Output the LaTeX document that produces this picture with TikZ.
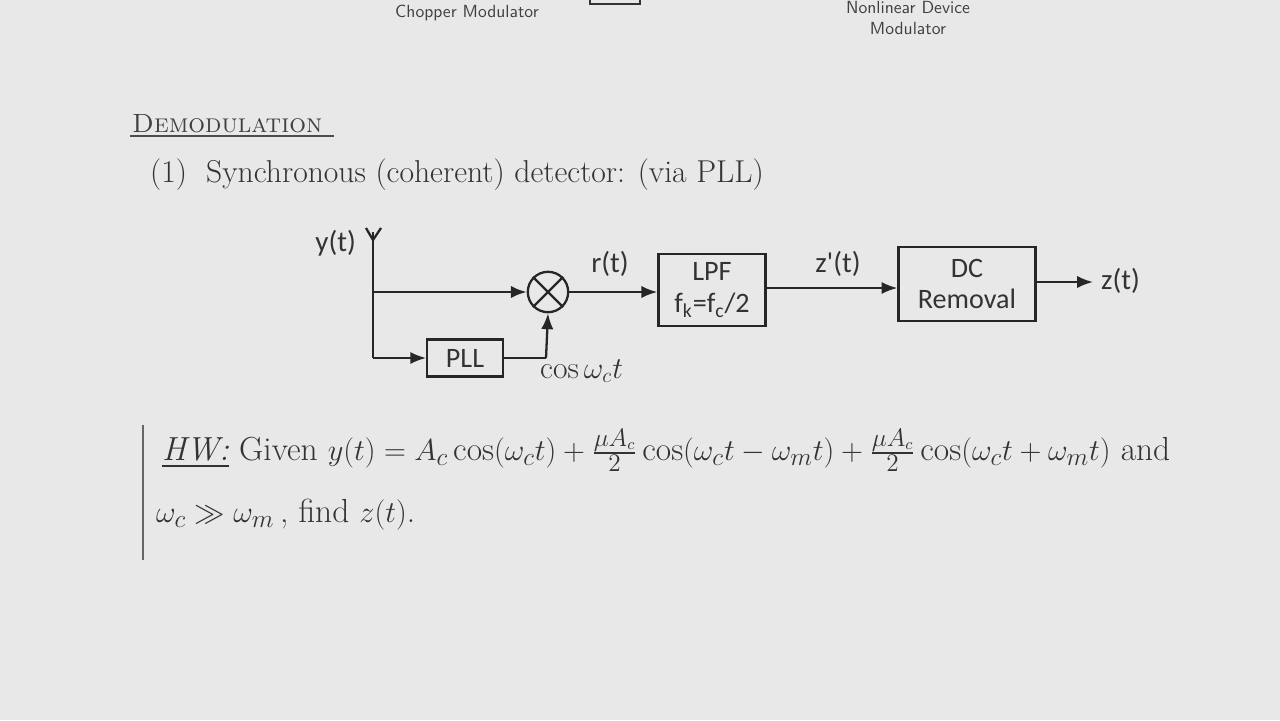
\documentclass[tikz,border=0pt]{standalone}
\usepackage{fontspec}
\usepackage{amssymb}
\newfontfamily\diag{Carlito}
\usetikzlibrary{arrows.meta}
\begin{document}
\begin{tikzpicture}[x=0.02cm,y=-0.02cm,
  blk/.style={draw=black!85,line width=1.3pt,inner sep=0pt,font=\diag\fontsize{16}{18}\selectfont,text=black!80,align=center},
  wire/.style={line width=1.3pt,draw=black!85},
  arr/.style={wire,-{Latex[length=9pt,width=7pt]}},
  lbl/.style={font=\diag\fontsize{16.5}{19}\selectfont,text=black!80}]
\fill[black!9] (0,0) rectangle (1280,720);
\useasboundingbox (0,0) rectangle (1280,720);
% top remnants
\node[font=\sffamily\fontsize{10}{12}\selectfont,text=black!75] (cm) at (467,13) {Chopper Modulator};
\draw[line width=1pt,black!80] (590,0) -- (590,4) -- (640,4) -- (640,0);
\node[font=\sffamily\fontsize{10}{12}\selectfont,text=black!75,align=center] (nd) at (908,18) {Nonlinear Device\\Modulator};
% heading
\node[anchor=west,font=\fontsize{15}{18}\selectfont\scshape,text=black!75] (h) at (126,124) {Demodulation};
\draw[line width=0.8pt,black!70] (130,136) -- (334,136);
\node[anchor=west,font=\fontsize{18}{21}\selectfont,text=black!80] (s) at (144,175) {(1)\ \ Synchronous (coherent) detector: (via PLL)};
% diagram
\coordinate (ant) at (373,245);
\draw[wire] (373,232) -- (ant);
\draw[wire] (366,228) -- (373,240) -- (381,228);
\node[lbl,anchor=east] (y) at (362,243) {y(t)};
\node[draw=black!85,line width=1.3pt,circle,minimum size=23pt,inner sep=0pt] (mx) at (548,292) {};
\draw[wire] (mx.north west) -- (mx.south east) (mx.north east) -- (mx.south west);
\coordinate (br) at (373,292);
\coordinate (bl) at (373,358);
\draw[wire] (ant) -- (bl);
\draw[arr] (br) -- (mx.west);
\node[blk,minimum width=43pt,minimum height=21pt] (pll) at (465,358) {PLL};
\draw[arr] (bl) -- (pll.west);
\coordinate (pc) at (546,358);
\draw[wire] (pll.east) -- (pc);
\draw[arr] (pc) -- (mx.south);
\node[lbl,anchor=west,font=\fontsize{18}{22}\selectfont] (cos) at (534,371) {$\cos\omega_c t$};
\node[blk,minimum width=61pt,minimum height=41pt] (lpf) at (712,290) {LPF\\f\textsubscript{k}=f\textsubscript{c}/2};
\draw[arr] (mx.east) -- (mx.east -| lpf.west);
\node[lbl] (rt) at (610,264) {r(t)};
\node[blk,minimum width=78pt,minimum height=42pt] (dc) at (967,284) {DC\\Removal};
\draw[arr] (lpf.east |- 0,288) -- (dc.west |- 0,288);
\node[lbl] (zp) at (838,264) {z'(t)};
\coordinate (zo) at (1093,282);
\draw[arr] (dc.east |- zo) -- (zo);
\node[lbl,anchor=west] (zt) at (1095,281) {z(t)};
% HW
\draw[line width=1pt,black!60] (143,425) -- (143,560);
\node[anchor=west,font=\fontsize{19}{22}\selectfont,text=black!80] (hw) at (156,450) {\underline{\textit{HW:}} Given $y(t)=A_c\cos(\omega_c t)+\frac{\mu A_c}{2}\cos(\omega_c t-\omega_m t)+\frac{\mu A_c}{2}\cos(\omega_c t+\omega_m t)$ and};
\node[anchor=west,font=\fontsize{19}{22}\selectfont,text=black!80] (hw2) at (150,515) {$\omega_c\gg\omega_m$\,, find $z(t)$.};
\end{tikzpicture}
\end{document}
